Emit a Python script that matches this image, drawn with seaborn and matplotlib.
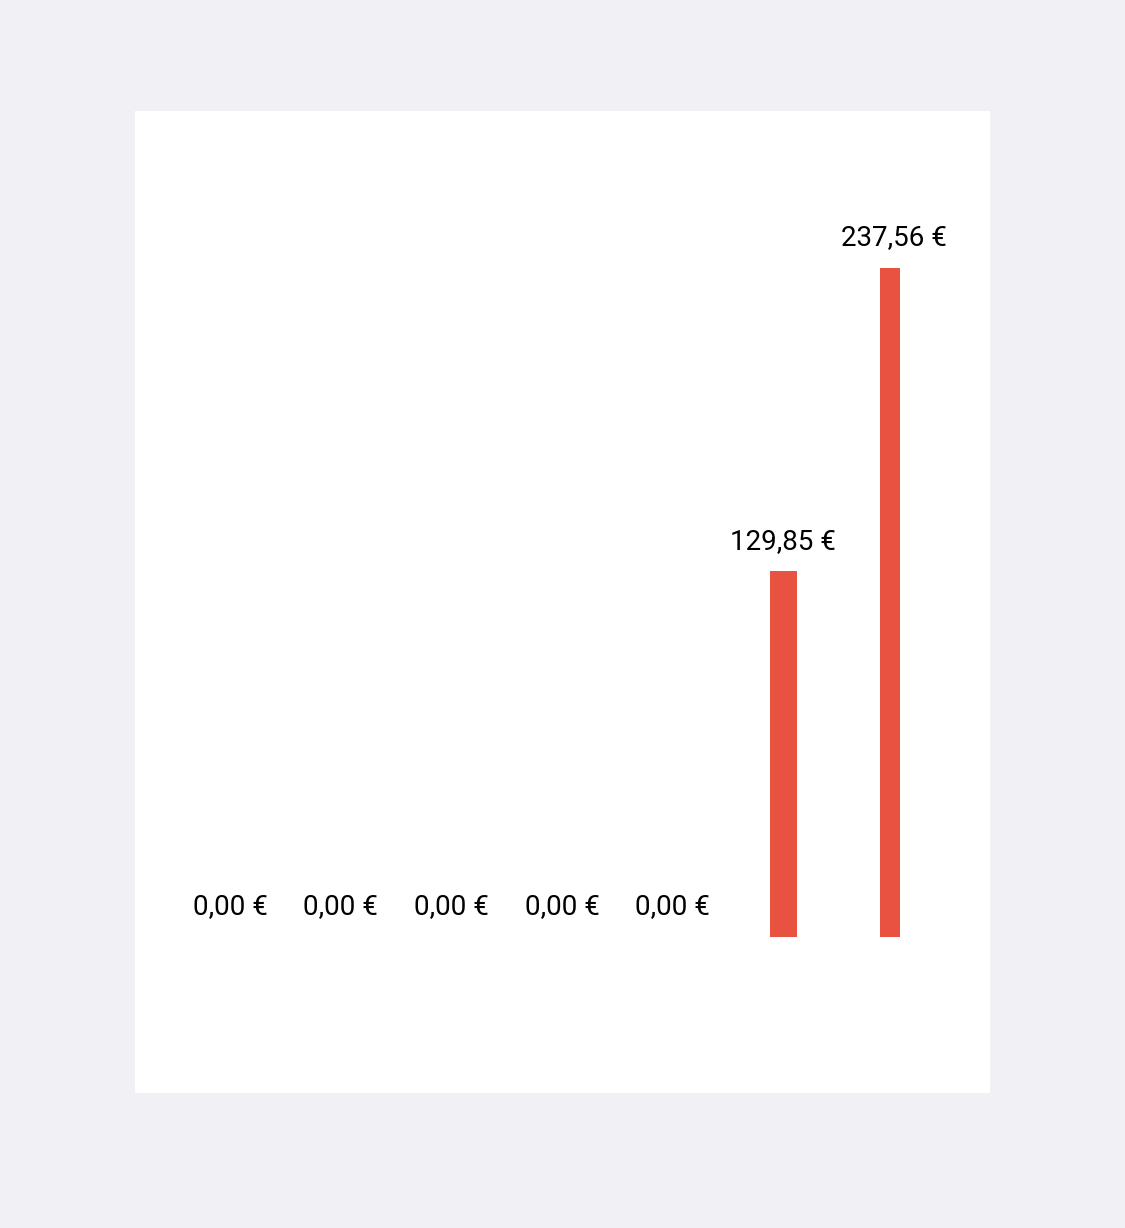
import matplotlib
matplotlib.use("Agg")
import matplotlib.pyplot as plt
import seaborn as sns
import pandas as pd

# data
categories = ["1", "2", "3", "4", "5", "6", "7"]
values = [0.0, 0.0, 0.0, 0.0, 0.0, 129.85, 237.56]
labels = ["0,00 €", "0,00 €", "0,00 €", "0,00 €", "0,00 €", "129,85 €", "237,56 €"]

df = pd.DataFrame({"cat": categories, "val": values})

sns.set_theme(style="white")
plt.rcParams["font.family"] = ["Roboto", "DejaVu Sans"]

W, H = 1125, 1228
fig = plt.figure(figsize=(W / 100, H / 100), dpi=100)
fig.patch.set_facecolor("#f0f0f5")

# the axes fill the white panel
px0, py0, px1, py1 = 135, 111, 990, 1093
ax = fig.add_axes([px0 / W, 1 - py1 / H, (px1 - px0) / W, (py1 - py0) / H])
ax.set_facecolor("white")

sns.barplot(data=df, x="cat", y="val", color="#e95140", width=0.22,
            saturation=1, ax=ax)

# the two visible bars differ a little in width (last one sits a bit left)
widths = [0.22, 0.22, 0.22, 0.22, 0.22, 0.245, 0.18]
shifts = [0, 0, 0, 0, 0, 0, -0.036]
for i, p in enumerate(ax.patches):
    p.set_width(widths[i])
    p.set_x(i - widths[i] / 2 + shifts[i])
    p.set_linewidth(0)

for i, (v, lab) in enumerate(zip(values, labels)):
    ax.annotate(lab, (i, v), xytext=(0, 12), textcoords="offset points",
                ha="center", va="bottom", fontsize=20, color="black")

ax.set_xlim(-0.858, 6.867)
ax.set_ylim(-55.4, 293.3)
ax.set_xticks([])
ax.set_yticks([])
ax.set_xlabel("")
ax.set_ylabel("")
for s in ax.spines.values():
    s.set_visible(False)

fig.savefig("out.png", dpi=100, facecolor=fig.get_facecolor())
